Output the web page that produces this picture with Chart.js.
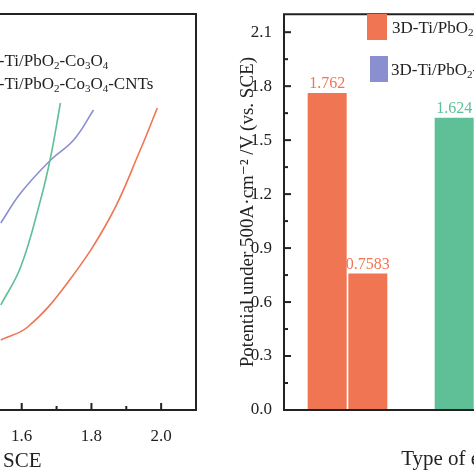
<!DOCTYPE html>
<html><head><meta charset="utf-8">
<script src="https://cdn.jsdelivr.net/npm/chart.js@4"></script>
<style>
body{margin:0;width:474px;height:474px;overflow:hidden;background:#fff;position:relative;font-family:"Liberation Serif","DejaVu Serif",serif;}
canvas{position:absolute;top:0;}
.lg{position:absolute;font-size:17px;color:#222;white-space:nowrap;line-height:1;}
.sw{position:absolute;}
sub{font-size:11px;vertical-align:-3px;}
</style></head><body>
<div id="w1" style="position:absolute;left:-300px;top:0;width:500px;height:474px"><canvas id="c1"></canvas></div>
<div id="w2" style="position:absolute;left:237px;top:0;width:440px;height:474px"><canvas id="c2"></canvas></div>
<div class="lg" style="left:-22px;top:52px">3D-Ti/PbO<sub>2</sub>-Co<sub>3</sub>O<sub>4</sub></div>
<div class="lg" style="left:-22px;top:75px">3D-Ti/PbO<sub>2</sub>-Co<sub>3</sub>O<sub>4</sub>-CNTs</div>
<div class="sw" style="left:367px;top:14px;width:20px;height:26px;background:#f07553"></div>
<div class="lg" style="left:392px;top:19px">3D-Ti/PbO<sub>2</sub></div>
<div class="sw" style="left:370px;top:56px;width:18px;height:26px;background:#8a8fd0"></div>
<div class="lg" style="left:391px;top:61px">3D-Ti/PbO<sub>2</sub>-Co<sub>3</sub>O<sub>4</sub>-CNTs</div>
<script>
// Left panel: polarization curves (x: potential V vs SCE, y: arbitrary current units)
const orangeX=[1.540,1.617,1.731,1.854,1.940,1.989];
const orangeY=[70,83,127,193,260,302];
const greenX=[1.540,1.597,1.654,1.683,1.711];
const greenY=[105,143,210,253,307];
const blueX=[1.540,1.597,1.683,1.749,1.806];
const blueY=[187,217,250,270,300];
// Right panel: bar values
const categories=["3D-Ti/PbO2","3D-Ti/PbO2-Co3O4","3D-Ti/PbO2-Co3O4-CNTs"];
const barA=[1.762,1.624,1.45];
const barB=[0.7583,0.612,0.52];
const barColors=["#f07553","#5fbf97","#8a8fd0"];
const yTicksR=[0,0.15,0.3,0.45,0.6,0.75,0.9,1.05,1.2,1.35,1.5,1.65,1.8,1.95,2.1];
const xTicksL=[0.7,0.8,0.9,1.0,1.1,1.2,1.3,1.4,1.5,1.6,1.7,1.8,1.9,2.0];

const F='"Liberation Serif","DejaVu Serif",serif';
const isMajX=v=>Math.round(v*10)%2===0;
const isMajY=v=>Math.round(v*100)%30===0;
const frame={id:'frame',afterDraw(c){const a=c.chartArea,x=c.ctx;x.save();x.strokeStyle='#222';x.lineWidth=2;
 x.beginPath();x.rect(a.left,a.top,a.right-a.left,a.bottom-a.top);x.stroke();
 const sx=c.scales.x;
 if(sx.type==='linear'){sx.ticks.forEach(t=>{const L=isMajX(t.value)?7:4;const p=sx.getPixelForValue(t.value);x.beginPath();x.moveTo(p,a.bottom);x.lineTo(p,a.bottom-L);x.stroke();});}
 const sy=c.scales.y;
 if(sy&&sy.options.display){sy.ticks.forEach(t=>{const L=isMajY(t.value)?7:4;const p=sy.getPixelForValue(t.value);x.beginPath();x.moveTo(a.left,p);x.lineTo(a.left+L,p);x.stroke();});}
 x.restore();}};
function mk(list){return list.map(v=>({value:v}));}

const lineDs=(X,Y,col)=>({data:X.map((v,i)=>({x:v,y:Y[i]})),borderColor:col,borderWidth:1.6,pointRadius:0,tension:0.4,fill:false});
new Chart(document.getElementById('c1'),{type:'line',plugins:[frame],
 data:{datasets:[lineDs(orangeX,orangeY,'#f07553'),lineDs(greenX,greenY,'#5fbf97'),lineDs(blueX,blueY,'#8a8fd0')]},
 options:{responsive:true,maintainAspectRatio:false,animation:false,layout:{padding:{left:6,right:4,top:14,bottom:0}},
  plugins:{legend:{display:false},tooltip:{enabled:false}},
  scales:{x:{type:'linear',min:0.7,max:2.1,afterBuildTicks(s){s.ticks=mk(xTicksL);},afterFit(s){s.height=64;},
    grid:{display:false},border:{display:false},
    ticks:{autoSkip:false,maxRotation:0,padding:8,color:'#222',font:{family:F,size:17},
     callback:v=>isMajX(v)?Number(v).toFixed(1):''},
    title:{display:true,text:'Potential / V vs. SCE',color:'#222',font:{family:F,size:21},padding:{top:2,bottom:0}}},
   y:{display:false,min:0,max:396}}}});

const vlab={id:'vlab',afterDatasetsDraw(c){const x=c.ctx;x.save();x.font='16px '+F;x.textAlign='center';x.textBaseline='bottom';
 c.data.datasets.forEach((d,di)=>{c.getDatasetMeta(di).data.forEach((b,i)=>{x.fillStyle=barColors[i];x.fillText(String(d.data[i]),b.x,b.y-1);});});x.restore();}};
new Chart(document.getElementById('c2'),{type:'bar',plugins:[frame,vlab],
 data:{labels:categories,datasets:[{data:barA,backgroundColor:barColors},{data:barB,backgroundColor:barColors}]},
 options:{responsive:true,maintainAspectRatio:false,animation:false,layout:{padding:{left:0,right:12,top:4,bottom:0}},
  datasets:{bar:{barPercentage:0.96,categoryPercentage:0.64}},
  plugins:{legend:{display:false},tooltip:{enabled:false}},
  scales:{x:{grid:{display:false},border:{display:false},ticks:{display:false},afterFit(s){s.height=64;},
    title:{display:true,text:'Type of electrode',color:'#222',font:{family:F,size:21},padding:{top:0,bottom:2}}},
   y:{min:0,max:2.2,afterBuildTicks(s){s.ticks=mk(yTicksR);},afterFit(s){s.width=47;},
    grid:{display:false},border:{display:false},
    ticks:{autoSkip:false,padding:4,color:'#222',font:{family:F,size:17},
     callback:v=>isMajY(v)?Number(v).toFixed(1):''},
    title:{display:true,text:'Potential under 500A·cm⁻² /V (vs. SCE)',color:'#222',font:{family:F,size:19},padding:{top:0,bottom:2}}}}}});
</script></body></html>
